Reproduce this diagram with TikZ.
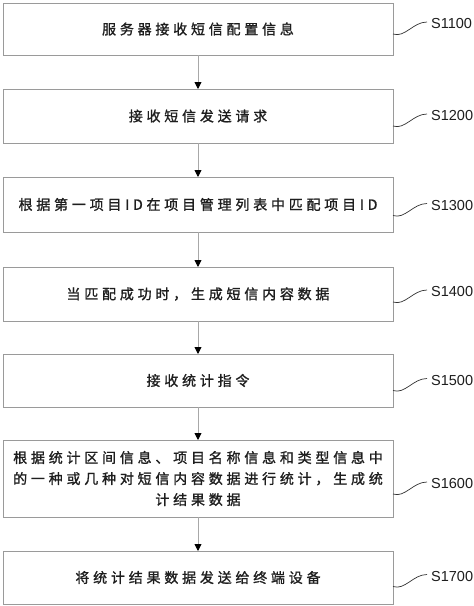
\documentclass[tikz,border=0pt]{standalone}
\usepackage{fontspec}
\setmainfont{Liberation Sans}
\newfontfamily\cjk[LetterSpace=27,FakeBold=1.2]{Noto Sans CJK SC}
\usetikzlibrary{arrows.meta}
\definecolor{boxline}{HTML}{9A9A9A}
\definecolor{arrline}{HTML}{A8A8A8}
\definecolor{txt}{HTML}{1E1E1E}
\tikzset{
  stepbox/.style={draw=boxline, line width=1pt, minimum width=390pt, inner sep=0pt, outer sep=0pt,
    align=center, text=txt, font=\cjk\fontsize{14pt}{21pt}\selectfont},
  flow/.style={draw=arrline, line width=0.9pt, -{Triangle[length=7pt,width=7pt,color=black]}},
  squig/.style={draw=black!80, line width=0.7pt},
  steplabel/.style={anchor=west, inner sep=0pt, text=txt, font=\fontsize{14.5pt}{17pt}\selectfont}
}
\begin{document}
\begin{tikzpicture}[x=1pt,y=-1pt]
\useasboundingbox[fill=white] (0,0) rectangle (474,606);
\node[stepbox, minimum height=52pt] (b1) at (198,29) {服务器接收短信配置信息};
\node[stepbox, minimum height=54pt] (b2) at (198,116) {接收短信发送请求};
\node[stepbox, minimum height=55pt] (b3) at (198,204.5) {根据第一项目ID在项目管理列表中匹配项目ID};
\node[stepbox, minimum height=54pt] (b4) at (198,294) {当匹配成功时，生成短信内容数据};
\node[stepbox, minimum height=53pt] (b5) at (198,380.5) {接收统计指令};
\node[stepbox, minimum height=77pt] (b6) at (198,478.5) {根据统计区间信息、项目名称信息和类型信息中\\的一种或几种对短信内容数据进行统计，生成统\\计结果数据};
\node[stepbox, minimum height=53pt] (b7) at (198,577.5) {将统计结果数据发送给终端设备};

\foreach \a/\b in {b1/b2,b2/b3,b3/b4,b4/b5,b5/b6,b6/b7}
  \draw[flow] (\a.south) -- (\b.north);

\foreach \n/\c/\t in {b1/25/S1100, b2/117/S1200, b3/206.5/S1300, b4/293/S1400, b5/381.5/S1500, b6/485/S1600, b7/577.5/S1700}{
  \coordinate (\n s) at (\n.east |- 0,\c+9);
  \node[steplabel] (\n l) at (431,\c-1) {\t};
  \draw[squig] (\n s) .. controls (405,\c+13) and (413,\c-3) .. (427,\c-3);
}
\end{tikzpicture}
\end{document}
